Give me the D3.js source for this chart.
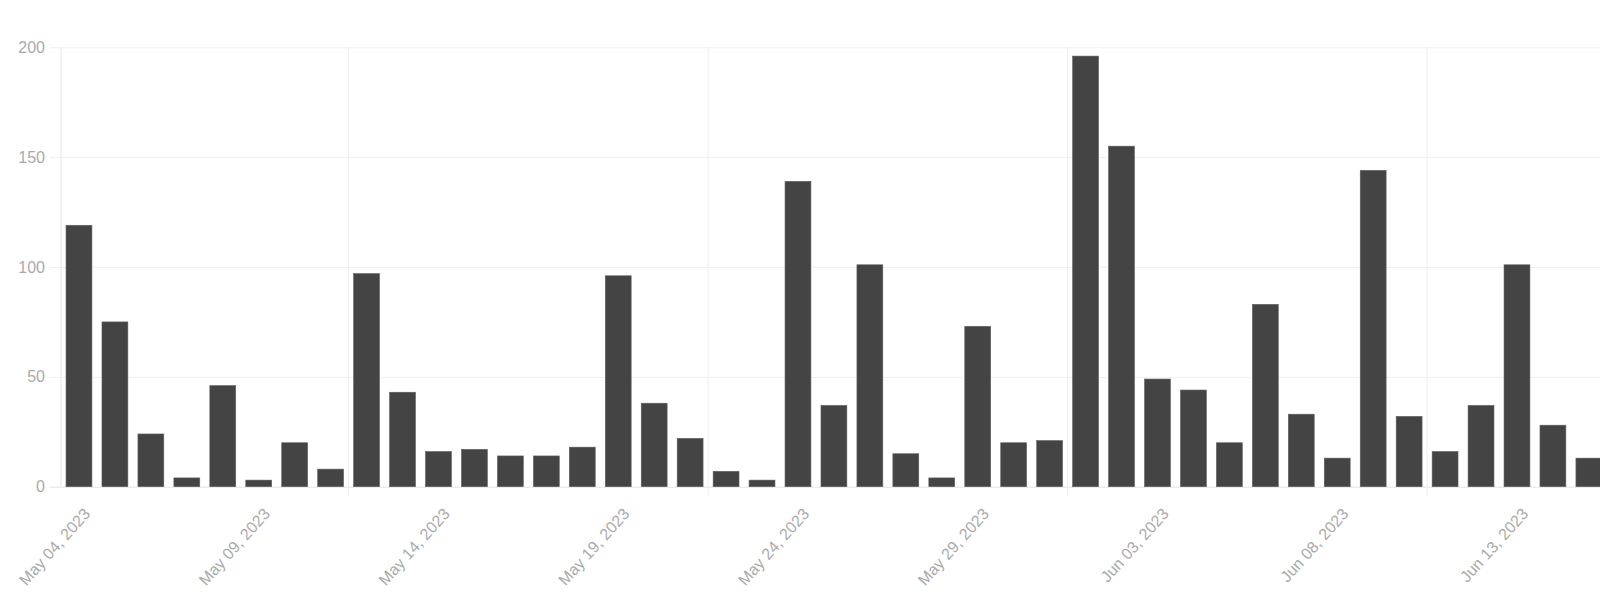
<!DOCTYPE html>
<html>
<head>
<meta charset="utf-8">
<script src="https://cdn.jsdelivr.net/npm/d3@7"></script>
<style>
  html, body { margin: 0; padding: 0; background: #fff; overflow: hidden; }
  svg { display: block; font-family: "Helvetica Neue", Helvetica, Arial, "Liberation Sans", sans-serif; }
</style>
</head>
<body>
<script>
'use strict'
// one bar per day, May 04 .. Jun 15 2023
const days = [
	"2023-05-04","2023-05-05","2023-05-06","2023-05-07","2023-05-08","2023-05-09","2023-05-10",
	"2023-05-11","2023-05-12","2023-05-13","2023-05-14","2023-05-15","2023-05-16","2023-05-17",
	"2023-05-18","2023-05-19","2023-05-20","2023-05-21","2023-05-22","2023-05-23","2023-05-24",
	"2023-05-25","2023-05-26","2023-05-27","2023-05-28","2023-05-29","2023-05-30","2023-05-31",
	"2023-06-01","2023-06-02","2023-06-03","2023-06-04","2023-06-05","2023-06-06","2023-06-07",
	"2023-06-08","2023-06-09","2023-06-10","2023-06-11","2023-06-12","2023-06-13","2023-06-14",
	"2023-06-15"
];
const counts = [
	119, 75, 24, 4, 46, 3, 20, 8, 97, 43,
	16, 17, 14, 14, 18, 96, 38, 22, 7, 3,
	139, 37, 101, 15, 4, 73, 20, 21, 196, 155,
	49, 44, 20, 83, 33, 13, 144, 32, 16, 37,
	101, 28, 13
];
const tickDays = ["2023-05-04","2023-05-09","2023-05-14","2023-05-19","2023-05-24","2023-05-29","2023-06-03","2023-06-08","2023-06-13"];
const gridDays = ["2023-05-12","2023-05-22","2023-06-01","2023-06-11"];
const yTicks = [0, 50, 100, 150, 200];

const w = 1600;
const h = 594;
const padLeft = 61;
const step = 35.95;
const padTop = 47.3;
const baseY = 486.7;

const parseDay = d3.timeParse("%Y-%m-%d");
const fmt = d3.timeFormat("%b %d, %Y");

const svg = d3.select("body")
	.append("svg")
	.attr("width", w)
	.attr("height", h);

const xScale = d3.scaleBand()
	.domain(days)
	.range([padLeft, padLeft + days.length * step])
	.paddingInner(0.28)
	.paddingOuter(0.14);

const yScale = d3.scaleLinear()
	.domain([0, 200])
	.range([baseY, padTop]);

// horizontal grid
svg.append("g")
	.attr("transform", "translate(" + padLeft + ",0)")
	.call(d3.axisLeft(yScale).tickValues(yTicks).tickSize(-(w - padLeft)).tickFormat(""))
	.call(g => g.select(".domain").remove())
	.call(g => g.selectAll("line").attr("stroke", (d) => d === 0 ? "#e2e2e2" : "#efefef"));

// vertical grid at band edges
const edge = (d) => xScale(d) - xScale.step() * xScale.paddingInner() / 2;
svg.append("g")
	.selectAll("line")
	.data(gridDays)
	.enter()
	.append("line")
	.attr("x1", (d) => edge(d))
	.attr("x2", (d) => edge(d))
	.attr("y1", padTop)
	.attr("y2", baseY + 10)
	.attr("stroke", "#efefef");

// y axis with labels
const yAxis = svg.append("g")
	.attr("transform", "translate(" + padLeft + ",0)")
	.call(d3.axisLeft(yScale).tickValues(yTicks).tickSize(11).tickPadding(5));
yAxis.select(".domain").attr("stroke", "#e6e6e6").attr("d", "M0," + padTop + "V" + baseY);
yAxis.selectAll(".tick line").attr("stroke", (d) => d === 0 ? "#e2e2e2" : "#efefef");
yAxis.selectAll("text")
	.attr("fill", "#aaaaaa")
	.attr("font-size", 16)
	.attr("font-family", null);

// bars
svg.selectAll("rect.bar")
	.data(days)
	.enter()
	.append("rect")
	.attr("class", "bar")
	.attr("fill", "#444444")
	.attr("stroke", "#5e5e5e")
	.attr("stroke-width", 0.6)
	.attr("x", (d) => xScale(d))
	.attr("y", (d, i) => yScale(counts[i]))
	.attr("width", xScale.bandwidth())
	.attr("height", (d, i) => baseY - yScale(counts[i]));

// x axis labels
const xAxis = svg.append("g")
	.attr("transform", "translate(0," + baseY + ")")
	.call(d3.axisBottom(xScale).tickValues(tickDays).tickSize(0).tickFormat((d) => fmt(parseDay(d))));
xAxis.select(".domain").remove();
xAxis.selectAll("text")
	.attr("fill", "#aaaaaa")
	.attr("font-size", 16)
	.attr("font-family", null)
	.attr("text-anchor", "end")
	.attr("dy", "0.35em")
	.attr("y", 0)
	.attr("transform", "translate(8,24) rotate(-48)");
</script>
</body>
</html>
